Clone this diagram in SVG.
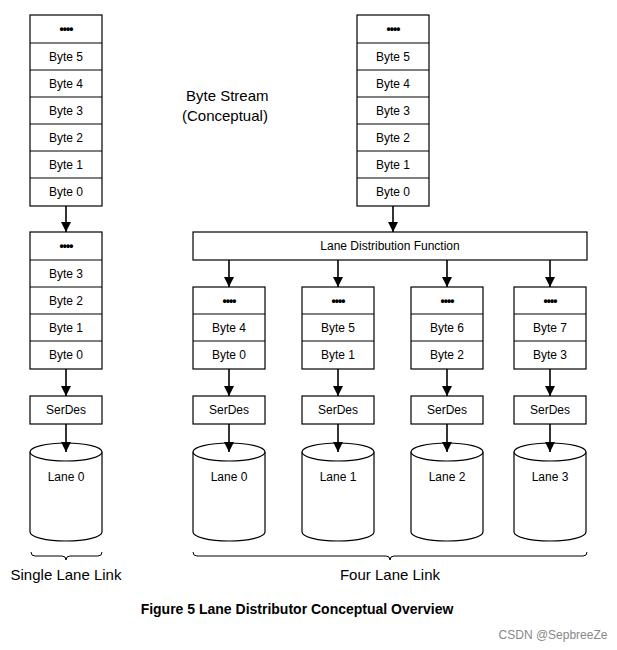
<svg xmlns="http://www.w3.org/2000/svg" width="617" height="650" viewBox="0 0 617 650">
<style>
.b{fill:#fff;stroke:#000;stroke-width:1.2}
.t{font-family:"Liberation Sans",Arial,sans-serif;font-size:12px;text-anchor:middle}
.d{font-family:"Liberation Sans",Arial,sans-serif;font-size:12px;font-weight:bold;text-anchor:middle;letter-spacing:-1px}
.l{font-family:"Liberation Sans",Arial,sans-serif;font-size:15px}
.c{stroke:#000;stroke-width:1.6;fill:none;marker-end:url(#a)}
.br{stroke:#000;stroke-width:1;fill:none}
</style>
<defs>
<marker id="a" viewBox="0 0 10 10" refX="10" refY="5" markerWidth="10" markerHeight="10" orient="auto" markerUnits="userSpaceOnUse"><path d="M0,0L10,5L0,10z"/></marker>
</defs>
<rect width="617" height="650" fill="#fff"/>
<g id="left-stream">
<rect class="b" x="30" y="15" width="72" height="191"/>
<path class="br" d="M30,43H102M30,70H102M30,97H102M30,124H102M30,151H102M30,178H102"/>
<text class="d" x="66" y="33">••••</text>
<text class="t" x="66" y="61">Byte 5</text><text class="t" x="66" y="88">Byte 4</text><text class="t" x="66" y="115">Byte 3</text><text class="t" x="66" y="142">Byte 2</text><text class="t" x="66" y="169">Byte 1</text><text class="t" x="66" y="196">Byte 0</text>
</g>
<g id="right-stream">
<rect class="b" x="357" y="15" width="72" height="191"/>
<path class="br" d="M357,43H429M357,70H429M357,97H429M357,124H429M357,151H429M357,178H429"/>
<text class="d" x="393" y="33">••••</text>
<text class="t" x="393" y="61">Byte 5</text><text class="t" x="393" y="88">Byte 4</text><text class="t" x="393" y="115">Byte 3</text><text class="t" x="393" y="142">Byte 2</text><text class="t" x="393" y="169">Byte 1</text><text class="t" x="393" y="196">Byte 0</text>
</g>
<g id="label-stream"><text class="l" x="186" y="101">Byte Stream</text><text class="l" x="182" y="121">(Conceptual)</text></g>
<g id="left-lane-stack">
<rect class="b" x="30" y="232" width="72" height="137"/>
<path class="br" d="M30,260H102M30,287H102M30,314H102M30,341H102"/>
<text class="d" x="66" y="250">••••</text>
<text class="t" x="66" y="278">Byte 3</text><text class="t" x="66" y="305">Byte 2</text><text class="t" x="66" y="332">Byte 1</text><text class="t" x="66" y="359">Byte 0</text>
</g>
<g id="ldf"><rect class="b" x="193" y="232" width="394" height="28"/><text class="t" x="390" y="250">Lane Distribution Function</text></g>
<g id="lane-stacks">
<g id="ls0"><rect class="b" x="193" y="287" width="72" height="82"/><path class="br" d="M193,314H265M193,341H265"/><text class="d" x="229" y="305">••••</text><text class="t" x="229" y="332">Byte 4</text><text class="t" x="229" y="359">Byte 0</text></g>
<g id="ls1"><rect class="b" x="302" y="287" width="72" height="82"/><path class="br" d="M302,314H374M302,341H374"/><text class="d" x="338" y="305">••••</text><text class="t" x="338" y="332">Byte 5</text><text class="t" x="338" y="359">Byte 1</text></g>
<g id="ls2"><rect class="b" x="411" y="287" width="72" height="82"/><path class="br" d="M411,314H483M411,341H483"/><text class="d" x="447" y="305">••••</text><text class="t" x="447" y="332">Byte 6</text><text class="t" x="447" y="359">Byte 2</text></g>
<g id="ls3"><rect class="b" x="514" y="287" width="72" height="82"/><path class="br" d="M514,314H586M514,341H586"/><text class="d" x="550" y="305">••••</text><text class="t" x="550" y="332">Byte 7</text><text class="t" x="550" y="359">Byte 3</text></g>
</g>
<g id="serdes">
<rect class="b" x="30" y="396" width="72" height="28"/><text class="t" x="66" y="414">SerDes</text>
<rect class="b" x="193" y="396" width="72" height="28"/><text class="t" x="229" y="414">SerDes</text>
<rect class="b" x="302" y="396" width="72" height="28"/><text class="t" x="338" y="414">SerDes</text>
<rect class="b" x="411" y="396" width="72" height="28"/><text class="t" x="447" y="414">SerDes</text>
<rect class="b" x="514" y="396" width="72" height="28"/><text class="t" x="550" y="414">SerDes</text>
</g>
<g id="lanes">
<g id="c0"><path class="b" d="M30,452V532A36,9 0 0 0 102,532V452"/><ellipse class="b" cx="66" cy="452" rx="36" ry="9"/><text class="t" x="66" y="481">Lane 0</text></g>
<g id="c1"><path class="b" d="M193,452V532A36,9 0 0 0 265,532V452"/><ellipse class="b" cx="229" cy="452" rx="36" ry="9"/><text class="t" x="229" y="481">Lane 0</text></g>
<g id="c2"><path class="b" d="M302,452V532A36,9 0 0 0 374,532V452"/><ellipse class="b" cx="338" cy="452" rx="36" ry="9"/><text class="t" x="338" y="481">Lane 1</text></g>
<g id="c3"><path class="b" d="M411,452V532A36,9 0 0 0 483,532V452"/><ellipse class="b" cx="447" cy="452" rx="36" ry="9"/><text class="t" x="447" y="481">Lane 2</text></g>
<g id="c4"><path class="b" d="M514,452V532A36,9 0 0 0 586,532V452"/><ellipse class="b" cx="550" cy="452" rx="36" ry="9"/><text class="t" x="550" y="481">Lane 3</text></g>
</g>
<g id="connectors">
<path class="c" d="M66,206V232"/><path class="c" d="M393,206V232"/>
<path class="c" d="M229,260V287"/><path class="c" d="M338,260V287"/><path class="c" d="M447,260V287"/><path class="c" d="M550,260V287"/>
<path class="c" d="M66,369V396"/><path class="c" d="M229,369V396"/><path class="c" d="M338,369V396"/><path class="c" d="M447,369V396"/><path class="c" d="M550,369V396"/>
<path class="c" d="M66,424V452"/><path class="c" d="M229,424V452"/><path class="c" d="M338,424V452"/><path class="c" d="M447,424V452"/><path class="c" d="M550,424V452"/>
</g>
<g id="braces">
<path class="br" d="M31,552Q31,556 35,556H62Q66,556 66,560Q66,556 70,556H98Q102,556 102,552"/>
<path class="br" d="M193,552Q193,556 197,556H386Q390,556 390,560Q390,556 394,556H583Q587,556 587,552"/>
</g>
<g id="captions">
<text class="l" x="66" y="580" text-anchor="middle">Single Lane Link</text>
<text class="l" x="390" y="580" text-anchor="middle">Four Lane Link</text>
<text x="297" y="614" style="font-family:'Liberation Sans',Arial,sans-serif;font-size:14px;font-weight:bold;text-anchor:middle">Figure 5 Lane Distributor Conceptual Overview</text>
<text x="553" y="639" style="font-family:'Liberation Sans',Arial,sans-serif;font-size:12px;fill:#888;text-anchor:middle">CSDN @SepbreeZe</text>
</g>
</svg>
